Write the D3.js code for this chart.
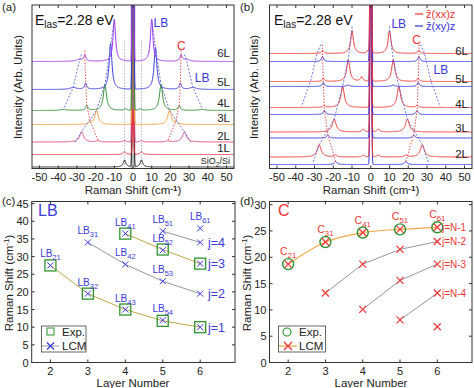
<!DOCTYPE html>
<html>
<head>
<meta charset="utf-8">
<script src="https://cdn.jsdelivr.net/npm/d3@7"></script>
<style>
  body { margin: 0; background: #fff; }
  svg { display: block; font-family: "Liberation Sans", Arial, sans-serif; }
</style>
</head>
<body>
<svg id="fig" width="474" height="388"></svg>
<script>
// ==================== DATA ====================
const ramanTicks = [-50, -40, -30, -20, -10, 0, 10, 20, 30, 40, 50];
const layerTicks = [2, 3, 4, 5, 6];

// panel (a): spectra, offsets in arb. units, peaks = [shift, height, hwhm]
const layersA = ['6L', '5L', '4L', '3L', '2L', '1L', 'SiO2/Si'];
const offsetsA = [107, 79, 58, 44, 26.5, 14, 1.5];
const rayleighA = [400, 400, 400, 400, 400, 45, 400];
const peaksA = [
  [[-28.5, 2, 2], [-25.7, 6, 0.7], [-10, 42, 0.8], [10, 42, 0.8], [25.7, 6, 0.7], [28.5, 2, 2]],
  [[-32, 2, 2], [-25.3, 6, 0.7], [-12, 46, 0.9], [12, 42, 0.9], [25.3, 6, 0.7], [32, 2, 2]],
  [[-37, 1, 2], [-24.7, 5, 0.7], [-15, 26, 1], [-4, 1.5, 0.8], [4, 1.5, 0.8], [15, 26, 1], [24.7, 5, 0.7], [37, 1, 2]],
  [[-22.9, 2, 0.8], [-19.5, 14, 1.1], [19.5, 14, 1.1], [22.9, 2, 0.8]],
  [[-27.5, 10, 1.3], [-18.7, 1.5, 0.8], [-4.5, 1.5, 0.8], [4.5, 1.5, 0.8], [18.7, 1.5, 0.8], [27.5, 10, 1.3]],
  [[-4.5, 3, 0.8], [4.5, 3, 0.8]],
  [[-4.5, 7, 0.8], [4.5, 7, 0.8]]
];

// panel (b): parallel (xx) and cross (xy) polarisation
const layersB = ['6L', '5L', '4L', '3L', '2L'];
const offsetsXX = [115, 87, 61, 36.5, 11.5];
const offsetsXY = [107, 82, 54, 30.5, 4];
const rayleighXX = [400, 400, 400, 400, 400];
const rayleighXY = [400, 400, 400, 400, 400];
const peaksXX = [
  [[-25.7, 3, 0.7], [-10, 23, 0.9], [-1.5, 3, 0.6], [10, 23, 0.9], [25.7, 3, 0.7]],
  [[-25.3, 3, 0.7], [-12, 22, 1], [-4.8, 4.5, 0.8], [12, 22, 1], [25.3, 3, 0.7]],
  [[-24.7, 2, 0.7], [-15, 21, 1.1], [15, 21, 1.1], [24.7, 2, 0.7]],
  [[-19.5, 13, 1.2], [-4, 3, 0.8], [4, 3, 0.8], [19.5, 13, 1.2]],
  [[-27.5, 12, 1.3], [-18.7, 2, 0.8], [-4, 2, 0.8], [4, 2, 0.8], [18.7, 2, 0.8], [27.5, 12, 1.3]]
];
const peaksXY = [
  [[-25.7, 5, 0.7], [25.7, 5, 0.7]],
  [[-25.3, 4, 0.7], [-12, 1.5, 1], [12, 1.5, 1], [25.3, 4, 0.7]],
  [[-24.7, 4, 0.7], [24.7, 4, 0.7]],
  [[-22.9, 3, 0.7], [22.9, 3, 0.7]],
  [[-18.7, 3, 0.8], [18.7, 3, 0.8]]
];

// mode branches followed by the guide lines (6L..2L)
const cBranch = [25.7, 25.3, 24.7, 22.9, 18.7];
const lbBranch1 = [10, 12, 15, 19.5, 27.5];
const lbBranch3 = [28.5, 32, 37];

// panel (c): LB modes
const lbExpJ1 = [[2, 27.5], [3, 19.5], [4, 15], [5, 11.8], [6, 10]];
const lbExpJ3 = [[4, 36.5], [5, 32], [6, 28]];
const lbLcmJ1 = [[2, 27.5], [3, 19.5], [4, 15], [5, 12], [6, 10]];
const lbLcmJ2 = [[3, 34], [4, 27.8], [5, 23], [6, 19.5]];
const lbLcmJ3 = [[4, 36.5], [5, 31.8], [6, 28]];
const lbLcmJ4 = [[5, 37.2], [6, 34]];
const lbLcmExtra = [[6, 38]];
const lbNames = [
  [2, 27.5, '21'], [3, 34, '31'], [3, 19.5, '32'], [4, 36.5, '41'], [4, 27.8, '42'], [4, 15, '43'],
  [5, 37.2, '51'], [5, 32, '52'], [5, 23, '53'], [5, 12, '54'], [6, 38, '61']
];
const lbBranchNames = [[34, 'j=4'], [28, 'j=3'], [19.5, 'j=2'], [10, 'j=1']];

// panel (d): C modes
const cExp = [[2, 18.7], [3, 22.9], [4, 24.7], [5, 25.3], [6, 25.7]];
const cLcmJ1 = [[2, 18.7], [3, 22.9], [4, 24.7], [5, 25.3], [6, 25.7]];
const cLcmJ2 = [[3, 13.2], [4, 18.7], [5, 21.5], [6, 23]];
const cLcmJ3 = [[4, 10.1], [5, 15.6], [6, 18.7]];
const cLcmJ4 = [[5, 8.1], [6, 13.2]];
const cLcmExtra = [[6, 6.8]];
const cNames = [[2, 18.7, '21'], [3, 22.9, '31'], [4, 24.7, '41'], [5, 25.3, '51'], [6, 25.7, '61']];
const cBranchNames = [[25.7, 'j=N-1'], [23, 'j=N-2'], [18.7, 'j=N-3'], [13.2, 'j=N-4']];

// ==================== STYLE ====================
const colorsA = ['#9a35f0', '#3a3ad8', '#2e8b2e', '#f59a35', '#e0407a', '#e8303c', '#222'];
const RED = '#ee3535', BLUE = '#3535e0', LBBLUE = '#3a3ad8';
const GREEN = '#2f942f', OLIVE = '#bda848', GREY = '#9696a6', ORANGE = '#f7a64a';

const svg = d3.select('#fig');
const defs = svg.append('defs');

// ==================== HELPERS ====================
const shiftGrid = d3.range(-54, 54.001, 0.1);
const bandAt = (peaks, s) => d3.sum(peaks, p => p[1] * p[2] * p[2] / ((s - p[0]) * (s - p[0]) + p[2] * p[2]));
// Lorentzian phonon bands plus a narrow laser line at 0
const lineShape = (peaks, rayleigh) => shiftGrid.map(x =>
  [x, bandAt(peaks, x) + rayleigh * Math.exp(-x * x / (2 * 0.32 * 0.32))]);

function frame(g, x0, x1, y0, y1) {
  g.append('rect').attr('x', x0).attr('y', y0).attr('width', x1 - x0).attr('height', y1 - y0)
    .attr('fill', 'none').attr('stroke', '#333').attr('stroke-width', 1);
}

function xTicks(g, xs, values, y0, y1) {
  values.forEach(v => {
    g.append('line').attr('x1', xs(v)).attr('x2', xs(v)).attr('y1', y1).attr('y2', y1 - 3).attr('stroke', '#333');
    g.append('line').attr('x1', xs(v)).attr('x2', xs(v)).attr('y1', y0).attr('y2', y0 + 3).attr('stroke', '#333');
    g.append('text').attr('x', xs(v)).attr('y', y1 + 12).attr('text-anchor', 'middle')
      .attr('font-size', 11).attr('fill', '#222').text(v);
  });
}

function yTicks(g, ys, values, x0, x1) {
  values.forEach(v => {
    g.append('line').attr('x1', x0).attr('x2', x0 + 3).attr('y1', ys(v)).attr('y2', ys(v)).attr('stroke', '#333');
    g.append('line').attr('x1', x1).attr('x2', x1 - 3).attr('y1', ys(v)).attr('y2', ys(v)).attr('stroke', '#333');
    g.append('text').attr('x', x0 - 3).attr('y', ys(v) + 4).attr('text-anchor', 'end')
      .attr('font-size', 11).attr('fill', '#222').text(v);
  });
}

function panelLetter(x, y, t) {
  svg.append('text').attr('x', x).attr('y', y).attr('font-size', 11.5).attr('fill', '#222').text(t);
}

function ramanTitle(cx, y) {
  const t = svg.append('text').attr('x', cx).attr('y', y).attr('text-anchor', 'middle')
    .attr('font-size', 11.5).attr('fill', '#222');
  t.append('tspan').text('Raman Shift (cm');
  t.append('tspan').attr('dy', -3).attr('font-size', 8).attr('font-weight', 'bold').text('-1');
  t.append('tspan').attr('dy', 3).text(')');
}

function rotTitle(x, cy, parts) {
  const t = svg.append('text').attr('transform', `translate(${x},${cy}) rotate(-90)`)
    .attr('text-anchor', 'middle').attr('font-size', 11.5).attr('fill', '#222');
  parts.forEach(p => {
    const s = t.append('tspan').text(p.t);
    if (p.dy) s.attr('dy', p.dy);
    if (p.fs) s.attr('font-size', p.fs);
  });
}

function elasLabel(x, y) {
  const t = svg.append('text').attr('x', x).attr('y', y).attr('font-size', 14).attr('fill', '#111');
  t.append('tspan').text('E');
  t.append('tspan').attr('dy', 3).attr('font-size', 10).text('las');
  t.append('tspan').attr('dy', -3).text('=2.28 eV');
}

function subLabel(g, x, y, base, sub, fs, color, anchor) {
  const t = g.append('text').attr('x', x).attr('y', y).attr('text-anchor', anchor || 'middle')
    .attr('font-size', fs).attr('fill', color);
  t.append('tspan').text(base);
  t.append('tspan').attr('dy', 3).attr('font-size', fs * 0.75).text(sub);
  return t;
}

function guide(plot, xs, ys, pts, color, dash) {
  [-1, 1].forEach(sg => {
    plot.append('path').datum(pts)
      .attr('d', d3.line().x(d => xs(sg * d[0])).y(d => ys(d[1])))
      .attr('fill', 'none').attr('stroke', color).attr('stroke-width', 0.9).attr('stroke-dasharray', dash);
  });
}

// ==================== PANEL (a) ====================
const A = { x0: 32, x1: 234, y0: 5, y1: 168.5 };
const xA = d3.scaleLinear().domain([-54, 54]).range([A.x0, A.x1]);
const yA = d3.scaleLinear().domain([0, A.y1 - A.y0]).range([A.y1, A.y0]);
defs.append('clipPath').attr('id', 'clipA').append('rect')
  .attr('x', A.x0).attr('y', A.y0).attr('width', A.x1 - A.x0).attr('height', A.y1 - A.y0);
const gA = svg.append('g');
const plotA = gA.append('g').attr('clip-path', 'url(#clipA)');

plotA.append('rect').attr('x', xA(-1.3)).attr('width', xA(1.3) - xA(-1.3))
  .attr('y', A.y0).attr('height', A.y1 - A.y0).attr('fill', '#8a8a8a').attr('opacity', 0.6);

[-4.5, 4.5].forEach(s => {
  plotA.append('line').attr('x1', xA(s)).attr('x2', xA(s)).attr('y1', yA(128)).attr('y2', yA(1.5))
    .attr('stroke', '#999').attr('stroke-dasharray', '1.2,1.8').attr('stroke-width', 0.9);
});

const lineA = d3.line().x(d => xA(d[0]));
layersA.map((l, i) => i).reverse().forEach(i => {
  const off = offsetsA[i];
  plotA.append('path')
    .datum(lineShape(peaksA[i], rayleighA[i]))
    .attr('d', lineA.y(d => yA(off + d[1])))
    .attr('fill', 'none').attr('stroke', colorsA[i]).attr('stroke-width', 1);
});

guide(plotA, xA, yA, [[cBranch[0], 118]].concat(cBranch.map((s, i) => [s, offsetsA[i] + bandAt(peaksA[i], s)])), '#e84040', '1.5,1.5');
guide(plotA, xA, yA, lbBranch1.map((s, i) => [s, offsetsA[i] + bandAt(peaksA[i], s)])
  .concat([[31, offsetsA[5] + 12]]), '#5a6ad8', '2,1.6');
guide(plotA, xA, yA, [[27.5, 114]].concat(lbBranch3.map((s, i) => [s, offsetsA[i] + 2])), '#5a6ad8', '2,1.6');

frame(gA, A.x0, A.x1, A.y0, A.y1);
xTicks(gA, xA, ramanTicks, A.y0, A.y1);
ramanTitle(133, 194);
rotTitle(22, 87, [{ t: 'Intensity (Arb. Units)' }]);
panelLetter(2, 11, '(a)');
elasLabel(35, 25);

const labelYA = [57, 86, 107, 122, 140, 152];
layersA.slice(0, 6).forEach((l, i) => {
  gA.append('text').attr('x', 230).attr('y', labelYA[i]).attr('text-anchor', 'end')
    .attr('font-size', 11.5).attr('fill', '#222').text(l);
});
subLabel(gA, 230, 164, 'SiO', '2', 9, '#222', 'end').append('tspan').attr('dy', -3).text('/Si');
gA.append('text').attr('x', xA(11)).attr('y', 27).attr('font-size', 12).attr('fill', LBBLUE).text('LB');
gA.append('text').attr('x', xA(25.8)).attr('y', 50).attr('text-anchor', 'middle').attr('font-size', 12).attr('fill', RED).text('C');
gA.append('text').attr('x', xA(33)).attr('y', 82).attr('font-size', 12).attr('fill', LBBLUE).text('LB');

// ==================== PANEL (b) ====================
const B = { x0: 269.5, x1: 472, y0: 5, y1: 168.5 };
const xB = d3.scaleLinear().domain([-54, 54]).range([B.x0, B.x1]);
const yB = d3.scaleLinear().domain([0, B.y1 - B.y0]).range([B.y1, B.y0]);
defs.append('clipPath').attr('id', 'clipB').append('rect')
  .attr('x', B.x0).attr('y', B.y0).attr('width', B.x1 - B.x0).attr('height', B.y1 - B.y0);
const gB = svg.append('g');
const plotB = gB.append('g').attr('clip-path', 'url(#clipB)');
const lineB = d3.line().x(d => xB(d[0]));

layersB.map((l, i) => i).reverse().forEach(i => {
  plotB.append('path').datum(lineShape(peaksXY[i], rayleighXY[i]))
    .attr('d', lineB.y(d => yB(offsetsXY[i] + d[1])))
    .attr('fill', 'none').attr('stroke', BLUE).attr('stroke-width', 1);
  plotB.append('path').datum(lineShape(peaksXX[i], rayleighXX[i]))
    .attr('d', lineB.y(d => yB(offsetsXX[i] + d[1])))
    .attr('fill', 'none').attr('stroke', RED).attr('stroke-width', 1);
});

guide(plotB, xB, yB, [[cBranch[0], 124]].concat(cBranch.map((s, i) => [s, offsetsXY[i] + bandAt(peaksXY[i], s)])), '#e84040', '1.5,1.5');
guide(plotB, xB, yB, [[lbBranch1[0], 142]]
  .concat(lbBranch1.map((s, i) => [s, offsetsXX[i] + bandAt(peaksXX[i], s)]))
  .concat([[31, 5]]), '#5a6ad8', '2,1.6');
guide(plotB, xB, yB, [[26.5, 124]].concat(lbBranch3.map((s, i) => [s, offsetsXX[i] + 1])), '#5a6ad8', '2,1.6');

frame(gB, B.x0, B.x1, B.y0, B.y1);
xTicks(gB, xB, ramanTicks, B.y0, B.y1);
ramanTitle(371, 194);
rotTitle(258, 87, [{ t: 'Intensity (Arb. Units)' }]);
panelLetter(240, 11, '(b)');
elasLabel(274, 25);

const labelYB = [55, 83, 108, 132, 158];
layersB.forEach((l, i) => {
  gB.append('text').attr('x', 468).attr('y', labelYB[i]).attr('text-anchor', 'end')
    .attr('font-size', 11.5).attr('fill', '#222').text(l);
});
gB.append('text').attr('x', xB(11)).attr('y', 28).attr('font-size', 12).attr('fill', LBBLUE).text('LB');
gB.append('text').attr('x', xB(24.5)).attr('y', 44).attr('text-anchor', 'middle').attr('font-size', 12).attr('fill', RED).text('C');
gB.append('text').attr('x', xB(33.5)).attr('y', 74).attr('font-size', 12).attr('fill', LBBLUE).text('LB');
[['z\u0304(xx)z', RED, 18], ['z\u0304(xy)z', BLUE, 30]].forEach(([t, c, y]) => {
  gB.append('line').attr('x1', 415).attr('x2', 423).attr('y1', y - 4).attr('y2', y - 4).attr('stroke', c).attr('stroke-width', 1.2);
  gB.append('text').attr('x', 426).attr('y', y).attr('font-size', 11).attr('fill', c).text(t);
});

// ==================== PANEL (c) ====================
const C = { x0: 31.7, x1: 235, y0: 201.5, y1: 362.5 };
const xC = d3.scaleLinear().domain([1.5, 6.93]).range([C.x0, C.x1]);
const yC = d3.scaleLinear().domain([0, 45.6]).range([C.y1, C.y0]);
const gC = svg.append('g');
const lineC = d3.line().x(d => xC(d[0])).y(d => yC(d[1]));

function cross(g, x, y, r, color, w) {
  g.append('path').attr('d', `M${x - r},${y - r}L${x + r},${y + r}M${x - r},${y + r}L${x + r},${y - r}`)
    .attr('stroke', color).attr('stroke-width', w).attr('fill', 'none');
}

[[lbLcmJ2, GREY], [lbLcmJ4, GREY], [lbExpJ1, OLIVE], [lbExpJ3, OLIVE]].forEach(([d, c]) => {
  gC.append('path').datum(d).attr('d', lineC).attr('fill', 'none').attr('stroke', c).attr('stroke-width', 1);
});
lbExpJ1.concat(lbExpJ3).forEach(d => {
  gC.append('rect').attr('x', xC(d[0]) - 5.5).attr('y', yC(d[1]) - 5.5).attr('width', 11).attr('height', 11)
    .attr('fill', 'none').attr('stroke', GREEN).attr('stroke-width', 1.3);
});
lbLcmJ1.concat(lbLcmJ2, lbLcmJ3, lbLcmJ4, lbLcmExtra).forEach(d => cross(gC, xC(d[0]), yC(d[1]), 3, BLUE, 1));

lbNames.forEach(([n, v, s]) => subLabel(gC, xC(n), yC(v) - 8, 'LB', s, 10, LBBLUE));
lbBranchNames.forEach(([v, t]) => {
  gC.append('text').attr('x', 208).attr('y', yC(v) + 4.5).attr('font-size', 12.5).attr('fill', LBBLUE).text(t);
});
gC.append('text').attr('x', 38).attr('y', 216).attr('font-size', 16).attr('fill', LBBLUE).text('LB');

frame(gC, C.x0, C.x1, C.y0, C.y1);
yTicks(gC, yC, d3.range(0, 46, 5), C.x0, C.x1);
xTicks(gC, xC, layerTicks, C.y0, C.y1);
gC.append('text').attr('x', 133).attr('y', 386.5).attr('text-anchor', 'middle').attr('font-size', 11.5).attr('fill', '#222').text('Layer Number');
rotTitle(13, 283, [{ t: 'Raman Shift (cm' }, { t: '-1', dy: -4, fs: 8 }, { t: ')', dy: 4 }]);
panelLetter(2, 205, '(c)');

gC.append('rect').attr('x', 41.5).attr('y', 326).attr('width', 44.5).attr('height', 26)
  .attr('fill', '#fff').attr('stroke', '#555').attr('stroke-width', 0.9);
gC.append('rect').attr('x', 47).attr('y', 328).attr('width', 7).attr('height', 7)
  .attr('fill', 'none').attr('stroke', GREEN).attr('stroke-width', 1);
gC.append('text').attr('x', 62).attr('y', 336).attr('font-size', 11.5).attr('fill', '#222').text('Exp.');
gC.append('line').attr('x1', 42).attr('x2', 59).attr('y1', 346).attr('y2', 346).attr('stroke', GREY);
cross(gC, 50.5, 346, 3.5, BLUE, 1.2);
gC.append('text').attr('x', 62).attr('y', 350).attr('font-size', 11.5).attr('fill', '#222').text('LCM');

// ==================== PANEL (d) ====================
const D = { x0: 269.5, x1: 472, y0: 201.5, y1: 362.5 };
const xD = d3.scaleLinear().domain([1.5, 6.93]).range([D.x0, D.x1]);
const yD = d3.scaleLinear().domain([0, 30.6]).range([D.y1, D.y0]);
const gD = svg.append('g');
const lineD = d3.line().x(d => xD(d[0])).y(d => yD(d[1]));

[[cLcmJ2, GREY], [cLcmJ3, GREY], [cLcmJ4, GREY]].forEach(([d, c]) => {
  gD.append('path').datum(d).attr('d', lineD).attr('fill', 'none').attr('stroke', c).attr('stroke-width', 1);
});
gD.append('path').datum(cExp).attr('d', lineD.curve(d3.curveMonotoneX)).attr('fill', 'none').attr('stroke', ORANGE).attr('stroke-width', 1.2);
cExp.forEach(d => {
  gD.append('circle').attr('cx', xD(d[0])).attr('cy', yD(d[1])).attr('r', 5.5)
    .attr('fill', 'none').attr('stroke', GREEN).attr('stroke-width', 1.4);
});
cLcmJ1.concat(cLcmJ2, cLcmJ3, cLcmJ4, cLcmExtra).forEach(d => cross(gD, xD(d[0]), yD(d[1]), 3.5, RED, 1.2));

cNames.forEach(([n, v, s]) => subLabel(gD, xD(n), yD(v) - 9, 'C', s, 10.5, RED));
cBranchNames.forEach(([v, t]) => {
  gD.append('text').attr('x', 442).attr('y', yD(v) + 4).attr('font-size', 10).attr('fill', RED).text(t);
});
gD.append('text').attr('x', 278).attr('y', 216).attr('font-size', 16).attr('fill', RED).text('C');

frame(gD, D.x0, D.x1, D.y0, D.y1);
yTicks(gD, yD, d3.range(0, 31, 5), D.x0, D.x1);
xTicks(gD, xD, layerTicks, D.y0, D.y1);
gD.append('text').attr('x', 371).attr('y', 386.5).attr('text-anchor', 'middle').attr('font-size', 11.5).attr('fill', '#222').text('Layer Number');
rotTitle(251, 283, [{ t: 'Raman Shift (cm' }, { t: '-1', dy: -4, fs: 8 }, { t: ')', dy: 4 }]);
panelLetter(240, 205, '(d)');

gD.append('rect').attr('x', 278.5).attr('y', 326).attr('width', 47).attr('height', 26)
  .attr('fill', '#fff').attr('stroke', '#555').attr('stroke-width', 0.9);
gD.append('circle').attr('cx', 287).attr('cy', 332).attr('r', 4)
  .attr('fill', 'none').attr('stroke', GREEN).attr('stroke-width', 1.2);
gD.append('text').attr('x', 299).attr('y', 336).attr('font-size', 11.5).attr('fill', '#222').text('Exp.');
gD.append('line').attr('x1', 279).attr('x2', 297).attr('y1', 346).attr('y2', 346).attr('stroke', ORANGE).attr('stroke-width', 1.2);
cross(gD, 288, 346, 4, RED, 1.3);
gD.append('text').attr('x', 299).attr('y', 350).attr('font-size', 11.5).attr('fill', '#222').text('LCM');
</script>
</body>
</html>
